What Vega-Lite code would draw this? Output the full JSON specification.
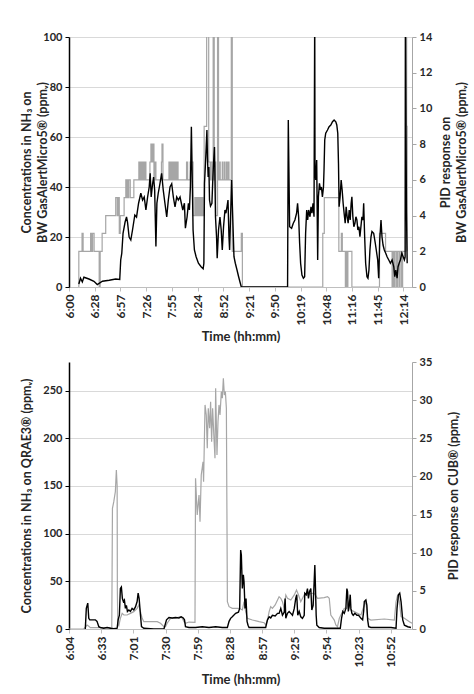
{
  "$schema": "https://vega.github.io/schema/vega-lite/v6.json",
  "padding": {"top": 31, "left": 20, "right": 2, "bottom": 2},
  "spacing": 12,
  "config": {
    "view": {"stroke": null},
    "font": "Lato",
    "axis": {"labelFont": "Lato", "labelFontWeight": "bold", "labelFontSize": 11, "labelColor": "#262626", "titleFont": "Lato", "titleFontWeight": "bold", "titleFontSize": 12.5, "titleColor": "#262626", "grid": false, "tickSize": 4, "labelPadding": 3, "titleLineHeight": 16}
  },
  "datasets": {
    "aGray": [{"t":370.9,"v":0},{"t":371.0,"v":2},{"t":374.6,"v":3},{"t":375.8,"v":2},{"t":384.2,"v":3},{"t":385.3,"v":2},{"t":386.4,"v":3},{"t":388.1,"v":2},{"t":393.8,"v":0},{"t":394.9,"v":2},{"t":397.1,"v":3},{"t":401.1,"v":4},{"t":412.3,"v":5},{"t":414.0,"v":4},{"t":415.1,"v":5},{"t":416.3,"v":3},{"t":417.4,"v":4},{"t":421.7,"v":5},{"t":423.6,"v":6},{"t":424.4,"v":5},{"t":425.0,"v":6},{"t":425.8,"v":5},{"t":426.9,"v":6},{"t":428.6,"v":5},{"t":432.6,"v":6},{"t":438.2,"v":7},{"t":438.8,"v":6},{"t":439.7,"v":7},{"t":440.4,"v":6},{"t":441.6,"v":7},{"t":442.1,"v":6},{"t":443.0,"v":7},{"t":443.8,"v":6},{"t":444.9,"v":7},{"t":446.1,"v":6},{"t":450.6,"v":7},{"t":451.7,"v":8},{"t":452.8,"v":7},{"t":453.9,"v":8},{"t":455.1,"v":6},{"t":456.2,"v":7},{"t":457.3,"v":6},{"t":463.5,"v":7},{"t":464.1,"v":8},{"t":465.2,"v":6},{"t":471.9,"v":7},{"t":472.5,"v":6},{"t":473.6,"v":7},{"t":474.5,"v":6},{"t":475.3,"v":7},{"t":476.2,"v":6},{"t":477.0,"v":7},{"t":477.9,"v":6},{"t":478.7,"v":7},{"t":479.8,"v":6},{"t":480.9,"v":7},{"t":482.1,"v":6},{"t":491.6,"v":7},{"t":492.8,"v":6},{"t":495.6,"v":7},{"t":498.9,"v":4},{"t":500.9,"v":5},{"t":501.5,"v":4},{"t":502.3,"v":5},{"t":503.1,"v":4},{"t":503.8,"v":5},{"t":504.6,"v":4},{"t":505.4,"v":5},{"t":506.0,"v":4},{"t":506.8,"v":5},{"t":507.6,"v":4},{"t":508.3,"v":5},{"t":509.1,"v":4},{"t":509.9,"v":5},{"t":510.5,"v":4},{"t":511.3,"v":9},{"t":514.1,"v":15},{"t":516.4,"v":7},{"t":518.1,"v":6},{"t":519.2,"v":7},{"t":520.9,"v":6},{"t":521.4,"v":15},{"t":522.6,"v":6},{"t":523.7,"v":7},{"t":524.3,"v":4},{"t":526.3,"v":15},{"t":527.4,"v":6},{"t":528.8,"v":7},{"t":529.3,"v":6},{"t":531.6,"v":7},{"t":532.1,"v":6},{"t":533.8,"v":7},{"t":534.4,"v":6},{"t":536.1,"v":7},{"t":536.9,"v":6},{"t":538.3,"v":7},{"t":539.1,"v":6},{"t":541.7,"v":15},{"t":542.8,"v":2},{"t":552.9,"v":3},{"t":554.1,"v":0},{"t":644.1,"v":3},{"t":645.8,"v":5},{"t":662.1,"v":2},{"t":664.9,"v":3},{"t":666.0,"v":2},{"t":669.4,"v":0},{"t":670.5,"v":2},{"t":671.6,"v":0},{"t":672.2,"v":2},{"t":676.7,"v":0},{"t":707.6,"v":3},{"t":714.4,"v":2},{"t":721.7,"v":0},{"t":722.8,"v":2},{"t":724.0,"v":0},{"t":725.1,"v":2},{"t":726.8,"v":0},{"t":727.9,"v":2},{"t":729.6,"v":0},{"t":730.7,"v":2},{"t":732.4,"v":0},{"t":733.5,"v":2},{"t":736.9,"v":15},{"t":738.0,"v":9},{"t":738.6,"v":2}],
    "aBlack": [{"t":371.0,"v":1.2},{"t":372.9,"v":3.5},{"t":374.9,"v":2},{"t":376.7,"v":3.9},{"t":382.3,"v":3.2},{"t":387.9,"v":2.3},{"t":391.7,"v":1.0},{"t":397.4,"v":2.3},{"t":405,"v":2.7},{"t":412.3,"v":3.2},{"t":416.8,"v":3.0},{"t":417.9,"v":10.8},{"t":419.1,"v":13.5},{"t":420.5,"v":21.5},{"t":422.8,"v":26},{"t":424.4,"v":28},{"t":425.5,"v":26},{"t":427.3,"v":20},{"t":429.2,"v":18.8},{"t":431.1,"v":22.8},{"t":433.7,"v":28.8},{"t":435.6,"v":28},{"t":437.9,"v":33.5},{"t":440.4,"v":37.5},{"t":442.4,"v":34.8},{"t":444.2,"v":36},{"t":446.1,"v":30.8},{"t":448.0,"v":36},{"t":449.8,"v":40},{"t":450.9,"v":45.5},{"t":452.0,"v":36},{"t":453.6,"v":41.3},{"t":454.7,"v":44},{"t":455.9,"v":38.8},{"t":457.3,"v":16.2},{"t":458.4,"v":33.5},{"t":459.9,"v":37.5},{"t":461.8,"v":41.3},{"t":463.7,"v":45.5},{"t":465.5,"v":38.8},{"t":467.4,"v":33.5},{"t":469.4,"v":28},{"t":471.2,"v":34.8},{"t":473.1,"v":40},{"t":475.0,"v":41.3},{"t":476.8,"v":36},{"t":478.7,"v":32},{"t":480.6,"v":36},{"t":482.4,"v":34.8},{"t":484.3,"v":36},{"t":485.4,"v":34.1},{"t":487.4,"v":30.8},{"t":489.2,"v":33.5},{"t":490.3,"v":23.5},{"t":492.2,"v":28},{"t":493.7,"v":33.5},{"t":494.8,"v":30.8},{"t":495.9,"v":40},{"t":497.0,"v":64.1},{"t":498.2,"v":38.8},{"t":498.9,"v":22.8},{"t":500.4,"v":14.8},{"t":502.3,"v":12.1},{"t":504.9,"v":9.5},{"t":507.9,"v":8.1},{"t":510.2,"v":7.3},{"t":511.0,"v":9.5},{"t":511.7,"v":41.5},{"t":512.8,"v":49.5},{"t":513.6,"v":56},{"t":514.4,"v":62.8},{"t":515.0,"v":52},{"t":515.8,"v":44},{"t":516.6,"v":48},{"t":517.3,"v":34.8},{"t":518.4,"v":32.4},{"t":520.0,"v":33.5},{"t":521.1,"v":44},{"t":521.8,"v":49.5},{"t":522.9,"v":56},{"t":524.0,"v":28},{"t":525.2,"v":20},{"t":525.9,"v":11.5},{"t":527.4,"v":22.8},{"t":529.0,"v":28},{"t":530.4,"v":22.8},{"t":531.6,"v":14.8},{"t":533.0,"v":24},{"t":534.6,"v":30.8},{"t":535.7,"v":29.5},{"t":536.9,"v":32.1},{"t":538.0,"v":34.8},{"t":539.1,"v":20},{"t":539.8,"v":14.8},{"t":540.9,"v":28},{"t":542.0,"v":42.8},{"t":544.7,"v":12.1},{"t":546.2,"v":9.5},{"t":548.1,"v":6.8},{"t":549.9,"v":4.1},{"t":551.8,"v":1.5},{"t":552.9,"v":0},{"t":604.7,"v":0},{"t":605.5,"v":66.8},{"t":607.0,"v":24.1},{"t":609.2,"v":23.5},{"t":611.1,"v":25.5},{"t":612.9,"v":26.8},{"t":614.8,"v":29.5},{"t":615.9,"v":33.5},{"t":617.1,"v":28},{"t":618.2,"v":17.5},{"t":619.3,"v":9.5},{"t":620.8,"v":4.8},{"t":622.4,"v":3.5},{"t":623.8,"v":4.1},{"t":624.9,"v":21.5},{"t":626.1,"v":30.8},{"t":627.2,"v":26.8},{"t":628.3,"v":30.8},{"t":629.8,"v":28.1},{"t":630.9,"v":32.1},{"t":632.0,"v":29.5},{"t":633.2,"v":33.5},{"t":634.3,"v":28.1},{"t":635.1,"v":110},{"t":635.4,"v":48},{"t":636.2,"v":42.8},{"t":637.3,"v":50.8},{"t":638.4,"v":10.8},{"t":639.2,"v":36},{"t":640.4,"v":41.5},{"t":641.5,"v":38.8},{"t":642.6,"v":40},{"t":643.7,"v":36},{"t":644.9,"v":40},{"t":645.5,"v":46.8},{"t":646.3,"v":58.8},{"t":647.4,"v":61.5},{"t":649.4,"v":62.8},{"t":651.2,"v":64.1},{"t":653.1,"v":64.8},{"t":655.0,"v":66.1},{"t":656.8,"v":66.8},{"t":658.7,"v":66.1},{"t":659.8,"v":64.8},{"t":660.9,"v":61.5},{"t":661.7,"v":49.5},{"t":662.4,"v":32.1},{"t":663.5,"v":36},{"t":664.7,"v":42.8},{"t":665.8,"v":38.8},{"t":666.9,"v":33.5},{"t":668.0,"v":29.5},{"t":669.2,"v":25.5},{"t":670.3,"v":32.1},{"t":671.4,"v":28.1},{"t":672.5,"v":25.5},{"t":673.7,"v":30.8},{"t":674.8,"v":26.8},{"t":675.9,"v":33.5},{"t":676.7,"v":36.1},{"t":677.8,"v":28.1},{"t":678.9,"v":24.1},{"t":680.1,"v":25.5},{"t":681.2,"v":28.1},{"t":682.3,"v":26.8},{"t":683.4,"v":22.8},{"t":684.6,"v":24.1},{"t":685.7,"v":20.1},{"t":686.8,"v":24.1},{"t":687.9,"v":28.1},{"t":689.1,"v":26.8},{"t":689.9,"v":33.5},{"t":691.0,"v":20.1},{"t":692.1,"v":9.5},{"t":693.6,"v":4.1},{"t":694.7,"v":3.5},{"t":695.8,"v":6.8},{"t":696.9,"v":14.8},{"t":698.1,"v":20.1},{"t":699.2,"v":22.2},{"t":701.1,"v":21.5},{"t":702.9,"v":17.5},{"t":704.0,"v":14.8},{"t":705.6,"v":10.8},{"t":706.7,"v":3.5},{"t":707.9,"v":18.8},{"t":709.3,"v":26.8},{"t":710.4,"v":20.1},{"t":711.6,"v":16.8},{"t":713.0,"v":14.8},{"t":714.6,"v":13.5},{"t":716.1,"v":12.1},{"t":718.0,"v":10.8},{"t":719.8,"v":9.5},{"t":721.7,"v":10.8},{"t":723.6,"v":8.1},{"t":724.7,"v":4.1},{"t":725.9,"v":6.8},{"t":727.3,"v":3.5},{"t":728.4,"v":8.1},{"t":729.6,"v":9.5},{"t":731.0,"v":10.8},{"t":732.6,"v":13.5},{"t":734.1,"v":12.1},{"t":735.5,"v":10.8},{"t":736.3,"v":12},{"t":736.6,"v":110},{"t":737.3,"v":64},{"t":737.8,"v":30},{"t":738.6,"v":9.5}],
    "bGray": [{"t":364.3,"v":0},{"t":377.5,"v":0},{"t":378.9,"v":2},{"t":380.5,"v":4.2},{"t":382.0,"v":3},{"t":383.4,"v":1.4},{"t":401.4,"v":1.4},{"t":402.6,"v":1.0},{"t":403.2,"v":126.6},{"t":404.4,"v":133.5},{"t":405.8,"v":144},{"t":406.7,"v":166.7},{"t":407.4,"v":150},{"t":407.6,"v":40},{"t":408.0,"v":5},{"t":408.9,"v":3.5},{"t":410.3,"v":11.2},{"t":411.9,"v":16.4},{"t":413.4,"v":14.7},{"t":416.3,"v":14.7},{"t":419.3,"v":16.4},{"t":422.3,"v":18.2},{"t":425.3,"v":21.7},{"t":426.8,"v":25.2},{"t":428.3,"v":18.2},{"t":429.8,"v":11.2},{"t":431.3,"v":7.7},{"t":437.2,"v":7.7},{"t":443.3,"v":7.7},{"t":446.2,"v":6},{"t":449.3,"v":2.4},{"t":450.7,"v":2.4},{"t":452.2,"v":6},{"t":455.2,"v":11.2},{"t":458.2,"v":11.2},{"t":461.2,"v":12},{"t":464.2,"v":13},{"t":465.7,"v":11.2},{"t":467.2,"v":7.7},{"t":468.6,"v":6},{"t":471.7,"v":7.3},{"t":477.1,"v":7},{"t":477.6,"v":158},{"t":479.1,"v":119.6},{"t":480.7,"v":140.5},{"t":481.6,"v":112.5},{"t":482.7,"v":161.5},{"t":484.3,"v":175.4},{"t":484.8,"v":154.5},{"t":486.1,"v":235},{"t":487.2,"v":224.4},{"t":488.1,"v":189.5},{"t":489.0,"v":231.4},{"t":490.2,"v":210.5},{"t":491.1,"v":238.4},{"t":492.0,"v":196.4},{"t":492.9,"v":231.4},{"t":494.1,"v":200},{"t":495.0,"v":179},{"t":495.6,"v":252.4},{"t":496.8,"v":182.5},{"t":497.7,"v":217.4},{"t":498.6,"v":235},{"t":499.5,"v":224.4},{"t":500.7,"v":248.9},{"t":501.6,"v":242},{"t":502.5,"v":262.9},{"t":503.4,"v":245.4},{"t":504.3,"v":248.9},{"t":505.2,"v":231.4},{"t":505.8,"v":100},{"t":506.1,"v":28.6},{"t":507.6,"v":23.4},{"t":510.5,"v":21.7},{"t":516.6,"v":21.7},{"t":519.5,"v":20},{"t":521.0,"v":28.6},{"t":522.5,"v":18},{"t":524.0,"v":11.2},{"t":528.5,"v":9.4},{"t":534.5,"v":7.7},{"t":539.0,"v":6.6},{"t":540.4,"v":4.2},{"t":542.0,"v":9.4},{"t":543.5,"v":18.2},{"t":544.9,"v":23.4},{"t":546.4,"v":21.7},{"t":548.9,"v":25.2},{"t":551.0,"v":30.4},{"t":552.4,"v":33.9},{"t":553.9,"v":32.2},{"t":555.4,"v":28.6},{"t":557.0,"v":21.7},{"t":558.4,"v":35.7},{"t":559.9,"v":32.2},{"t":562.9,"v":30.4},{"t":566.0,"v":35.7},{"t":568.0,"v":40.9},{"t":569.8,"v":35.7},{"t":571.8,"v":28.6},{"t":574.9,"v":35.7},{"t":577.8,"v":35.7},{"t":580.8,"v":37.4},{"t":583.8,"v":37.4},{"t":586.8,"v":32.2},{"t":592.8,"v":32.9},{"t":595.8,"v":33.9},{"t":597.3,"v":32.2},{"t":598.7,"v":14.7},{"t":601.8,"v":9.4},{"t":603.2,"v":4.2},{"t":604.7,"v":2.4},{"t":606.3,"v":11.2},{"t":607.7,"v":14.7},{"t":610.8,"v":21.7},{"t":613.1,"v":21.7},{"t":614.4,"v":28.6},{"t":616.7,"v":19.9},{"t":619.7,"v":18.2},{"t":622.7,"v":16.4},{"t":625.7,"v":14.7},{"t":628.7,"v":25.2},{"t":630.1,"v":28.6},{"t":631.7,"v":11.2},{"t":634.6,"v":9.4},{"t":646.6,"v":10.5},{"t":655.6,"v":9.4},{"t":657.1,"v":28.6},{"t":658.6,"v":35.7},{"t":660.1,"v":28.6},{"t":661.6,"v":12.9},{"t":664.6,"v":11.2},{"t":669.1,"v":7.7},{"t":671.4,"v":6}],
    "bBlack": [{"t":378.9,"v":0},{"t":379.8,"v":2.7},{"t":381.1,"v":3.4},{"t":382.0,"v":1.4},{"t":382.9,"v":1.2},{"t":384.0,"v":1.2},{"t":385.8,"v":1.2},{"t":387.9,"v":1.2},{"t":389.4,"v":1.0},{"t":391.0,"v":0.3},{"t":392.4,"v":0.2},{"t":395.4,"v":0.1},{"t":398.4,"v":0.2},{"t":401.4,"v":0.1},{"t":404.4,"v":0.05},{"t":407.4,"v":0.1},{"t":408.3,"v":1.2},{"t":409.4,"v":1.8},{"t":410.3,"v":5.3},{"t":411.2,"v":5.5},{"t":412.1,"v":4.0},{"t":413.0,"v":3.6},{"t":413.9,"v":3.8},{"t":414.8,"v":2.7},{"t":415.7,"v":3.1},{"t":416.6,"v":2.3},{"t":417.9,"v":2.5},{"t":419.3,"v":2.3},{"t":420.8,"v":2.7},{"t":422.3,"v":2.5},{"t":423.8,"v":2.9},{"t":425.3,"v":3.6},{"t":426.2,"v":4.7},{"t":427.1,"v":4.0},{"t":428.3,"v":1.8},{"t":429.2,"v":0.3},{"t":431.3,"v":0.1},{"t":440.3,"v":0},{"t":449.3,"v":0},{"t":451.6,"v":1.2},{"t":453.8,"v":1.5},{"t":456.7,"v":1.45},{"t":459.7,"v":1.5},{"t":462.7,"v":1.45},{"t":464.8,"v":1.6},{"t":466.6,"v":1.45},{"t":467.7,"v":1.2},{"t":468.6,"v":0.3},{"t":471.7,"v":0.2},{"t":477.6,"v":0.2},{"t":483.6,"v":0.3},{"t":489.6,"v":0.2},{"t":495.6,"v":0.3},{"t":501.6,"v":0.2},{"t":506.1,"v":0.2},{"t":507.6,"v":1.0},{"t":509.0,"v":1.4},{"t":510.5,"v":1.6},{"t":513.5,"v":2.05},{"t":516.0,"v":2.2},{"t":517.1,"v":2.7},{"t":518.0,"v":10.35},{"t":518.6,"v":9.7},{"t":519.5,"v":5.3},{"t":520.4,"v":7.1},{"t":521.0,"v":6.2},{"t":521.9,"v":2.7},{"t":522.8,"v":4.0},{"t":523.7,"v":1.0},{"t":524.6,"v":0.5},{"t":525.5,"v":0.2},{"t":531.4,"v":0.2},{"t":537.5,"v":0.2},{"t":540.4,"v":0.2},{"t":542.0,"v":1.2},{"t":543.5,"v":1.6},{"t":544.9,"v":1.45},{"t":546.4,"v":1.8},{"t":548.9,"v":1.7},{"t":551.0,"v":2.05},{"t":552.4,"v":2.05},{"t":553.9,"v":2.7},{"t":555.4,"v":1.8},{"t":557.0,"v":2.2},{"t":557.8,"v":4.0},{"t":558.4,"v":1.4},{"t":559.9,"v":2.05},{"t":561.4,"v":2.3},{"t":562.9,"v":2.05},{"t":564.4,"v":1.8},{"t":566.0,"v":2.7},{"t":567.3,"v":4.0},{"t":568.2,"v":4.5},{"t":569.1,"v":1.8},{"t":570.4,"v":2.3},{"t":571.8,"v":1.6},{"t":573.3,"v":1.4},{"t":574.9,"v":1.8},{"t":575.4,"v":4.7},{"t":576.7,"v":4.5},{"t":577.8,"v":5.3},{"t":578.7,"v":4.0},{"t":579.6,"v":4.9},{"t":580.8,"v":5.3},{"t":581.7,"v":2.5},{"t":582.9,"v":3.1},{"t":583.8,"v":6.2},{"t":584.4,"v":8.4},{"t":585.0,"v":5.3},{"t":585.6,"v":1.8},{"t":586.2,"v":0.5},{"t":588.3,"v":0.2},{"t":592.8,"v":0.1},{"t":598.7,"v":0.1},{"t":604.7,"v":0.1},{"t":607.2,"v":0.1},{"t":608.3,"v":1.4},{"t":609.5,"v":2.3},{"t":610.8,"v":2.05},{"t":612.2,"v":2.7},{"t":613.1,"v":5.3},{"t":613.7,"v":4.9},{"t":614.4,"v":2.3},{"t":615.3,"v":3.1},{"t":616.1,"v":4.5},{"t":616.7,"v":2.7},{"t":617.6,"v":2.05},{"t":618.8,"v":1.8},{"t":620.3,"v":2.05},{"t":622.1,"v":1.8},{"t":623.6,"v":1.8},{"t":625.7,"v":1.4},{"t":627.2,"v":1.2},{"t":628.1,"v":2.3},{"t":628.7,"v":3.6},{"t":630.1,"v":3.8},{"t":631.0,"v":3.1},{"t":631.7,"v":1.2},{"t":632.6,"v":0.3},{"t":634.6,"v":0.2},{"t":643.6,"v":0.2},{"t":652.6,"v":0.2},{"t":657.1,"v":0.1},{"t":658.0,"v":2.7},{"t":659.2,"v":4.5},{"t":660.4,"v":4.7},{"t":661.6,"v":3.6},{"t":663.1,"v":1.2},{"t":664.6,"v":0.5},{"t":667.6,"v":0.3},{"t":670.5,"v":0.2}]
  },
  "vconcat": [
    {
      "width": 343,
      "height": 250,
      "encoding": {
        "x": {"field": "t", "type": "quantitative", "scale": {"domain": [360, 744], "nice": false, "zero": false},
          "axis": {"values": [360, 388.8, 417.6, 446.4, 475.2, 504, 532.8, 561.6, 590.4, 619.2, 648, 676.8, 705.6, 734.4],
            "labelExpr": "floor(datum.value/60) + ':' + (floor(datum.value%60) < 10 ? '0' : '') + floor(datum.value%60)",
            "labelAngle": 270, "labelFontSize": 12, "title": "Time (hh:mm)", "titleFontSize": 13, "titlePadding": 6,
            "domainColor": "#bfbfbf", "tickColor": "#bfbfbf", "labelOverlap": false, "labelFlush": false}}
      },
      "layer": [
        {
          "data": {"name": "aGray"},
          "mark": {"type": "line", "interpolate": "step-after", "color": "#a6a6a6", "strokeWidth": 1.2, "clip": true},
          "encoding": {
            "y": {"field": "v", "type": "quantitative", "scale": {"domain": [0, 14], "nice": false},
              "axis": {"orient": "right", "values": [0, 2, 4, 6, 8, 10, 12, 14], "title": ["PID response on", "BW GasAlertMicro5® (ppmᵥ)"],
                "titleAngle": 270, "titleBaseline": "top", "titlePadding": -8, "domainColor": "#a6a6a6", "tickColor": "#a6a6a6"}}
          }
        },
        {
          "data": {"name": "aBlack"},
          "mark": {"type": "line", "color": "#000000", "strokeWidth": 1.4, "clip": true},
          "encoding": {
            "y": {"field": "v", "type": "quantitative", "scale": {"domain": [0, 100], "nice": false},
              "axis": {"orient": "left", "values": [0, 20, 40, 60, 80, 100], "grid": true, "gridColor": "#d9d9d9",
                "domainColor": "#000000", "domainWidth": 1.5, "tickColor": "#000000",
                "title": ["Concentrations in NH₃ on", "BW GasAlertMicro5® (ppmᵥ)"], "titlePadding": -7}}
          }
        },
        {
          "data": {"values": [{}]},
          "mark": {"type": "text", "text": "a)", "align": "left", "baseline": "middle", "fontSize": 17, "font": "Lato", "color": "#262626"},
          "encoding": {
            "x": {"datum": 370},
            "y": {"datum": 93, "scale": {"domain": [0, 100], "nice": false}, "axis": null}
          }
        }
      ],
      "resolve": {"scale": {"y": "independent"}, "axis": {"y": "independent"}}
    },
    {
      "width": 343,
      "height": 267,
      "encoding": {
        "x": {"field": "t", "type": "quantitative", "scale": {"domain": [364.3, 671.4], "nice": false, "zero": false},
          "axis": {"values": [364.3, 393.1, 421.9, 450.7, 479.5, 508.3, 537.1, 565.9, 594.7, 623.5, 652.3],
            "labelExpr": "floor(datum.value/60) + ':' + (floor(datum.value%60) < 10 ? '0' : '') + floor(datum.value%60)",
            "labelAngle": 270, "labelFontSize": 12, "title": "Time (hh:mm)", "titleFontSize": 13, "titlePadding": 7,
            "domainColor": "#bfbfbf", "tickColor": "#bfbfbf", "labelOverlap": false, "labelFlush": false}}
      },
      "layer": [
        {
          "data": {"name": "bGray"},
          "mark": {"type": "line", "color": "#a6a6a6", "strokeWidth": 1.2, "clip": true},
          "encoding": {
            "y": {"field": "v", "type": "quantitative", "scale": {"domain": [0, 280], "nice": false},
              "axis": {"orient": "left", "values": [0, 50, 100, 150, 200, 250], "grid": true, "gridColor": "#d9d9d9",
                "domainColor": "#000000", "domainWidth": 1.5, "tickColor": "#000000",
                "title": "Concentrations in NH₃ on QRAE3® (ppmᵥ)", "titlePadding": 9}}
          }
        },
        {
          "data": {"name": "bBlack"},
          "mark": {"type": "line", "color": "#000000", "strokeWidth": 1.4, "clip": true},
          "encoding": {
            "y": {"field": "v", "type": "quantitative", "scale": {"domain": [0, 35], "nice": false},
              "axis": {"orient": "right", "values": [0, 5, 10, 15, 20, 25, 30, 35], "title": "PID response on CUB® (ppmᵥ)",
                "titleAngle": 270, "titleBaseline": "top", "titlePadding": 16, "domainColor": "#a6a6a6", "tickColor": "#a6a6a6"}}
          }
        },
        {
          "data": {"values": [{}]},
          "mark": {"type": "text", "text": "b)", "align": "left", "baseline": "middle", "fontSize": 17, "font": "Lato", "color": "#262626"},
          "encoding": {
            "x": {"datum": 375},
            "y": {"datum": 271, "scale": {"domain": [0, 280], "nice": false}, "axis": null}
          }
        }
      ],
      "resolve": {"scale": {"y": "independent"}, "axis": {"y": "independent"}}
    }
  ]
}
